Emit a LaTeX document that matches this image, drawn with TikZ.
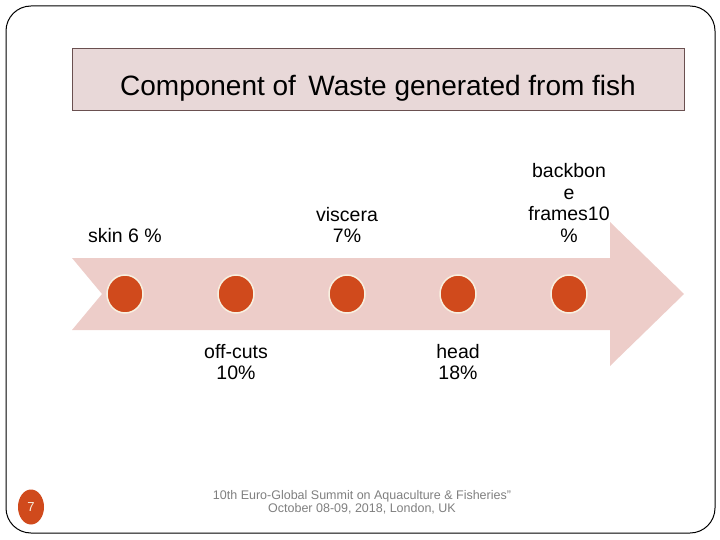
\documentclass[tikz,border=0pt]{standalone}
\usepackage{fontspec}
\setmainfont{Liberation Sans}
\usetikzlibrary{shapes.geometric}
\definecolor{titlefill}{HTML}{E8D8D8}
\definecolor{titleedge}{HTML}{6A5050}
\definecolor{arrowfill}{HTML}{EDCDC9}
\definecolor{dotfill}{HTML}{D04A1C}
\definecolor{dotedge}{HTML}{F8F0E0}
\definecolor{foot}{HTML}{7F7F7F}
\tikzset{
  dot/.style={ellipse, fill=dotfill, draw=dotedge, line width=1.5pt, minimum width=36pt, minimum height=38pt, inner sep=0pt},
  lbl/.style={align=center, font=\fontsize{19.5}{21.5}\selectfont, inner sep=0pt},
  foottxt/.style={align=center, text=foot, font=\fontsize{12.5}{13}\selectfont, inner sep=0pt}
}
\begin{document}
\begin{tikzpicture}[x=1pt,y=-1pt]
\useasboundingbox (0,0) rectangle (720,540);
\draw[line width=1pt, rounded corners=25pt] (6,6) rectangle (715,533);
\node[draw=titleedge, fill=titlefill, line width=0.8pt, minimum width=612pt, minimum height=62pt, anchor=north west, inner sep=0pt] (title) at (72,48) {};
\node[font=\fontsize{28}{32}\selectfont, inner sep=0pt] (titletext) at (378,88) {Component of\, Waste generated from fish};
\fill[arrowfill] (72,258) -- (610,258) -- (610,222) -- (684,294) -- (610,366) -- (610,330) -- (72,330) -- (102,294) -- cycle;
\node[dot] (d1) at (125,294) {};
\node[dot] (d2) at (236,294) {};
\node[dot] (d3) at (347,294) {};
\node[dot] (d4) at (458,294) {};
\node[dot] (d5) at (569,294) {};
\node[lbl] (l1) at (125,236) {skin 6 \%};
\node[lbl] (l2) at (236,362) {off-cuts\\10\%};
\node[lbl] (l3) at (347,225) {viscera\\7\%};
\node[lbl] (l4) at (458,362) {head\\18\%};
\node[lbl] (l5) at (569,203) {backbon\\e\\frames10\\\%};
\node[ellipse, fill=dotfill, minimum width=26pt, minimum height=35pt, inner sep=0pt, text=dotedge, font=\fontsize{13}{15}\selectfont] (pg) at (31,507) {7};
\node[foottxt] (ft) at (362,502.5) {10th Euro-Global Summit on Aquaculture \& Fisheries"\\October 08-09, 2018, London, UK};
\end{tikzpicture}
\end{document}
